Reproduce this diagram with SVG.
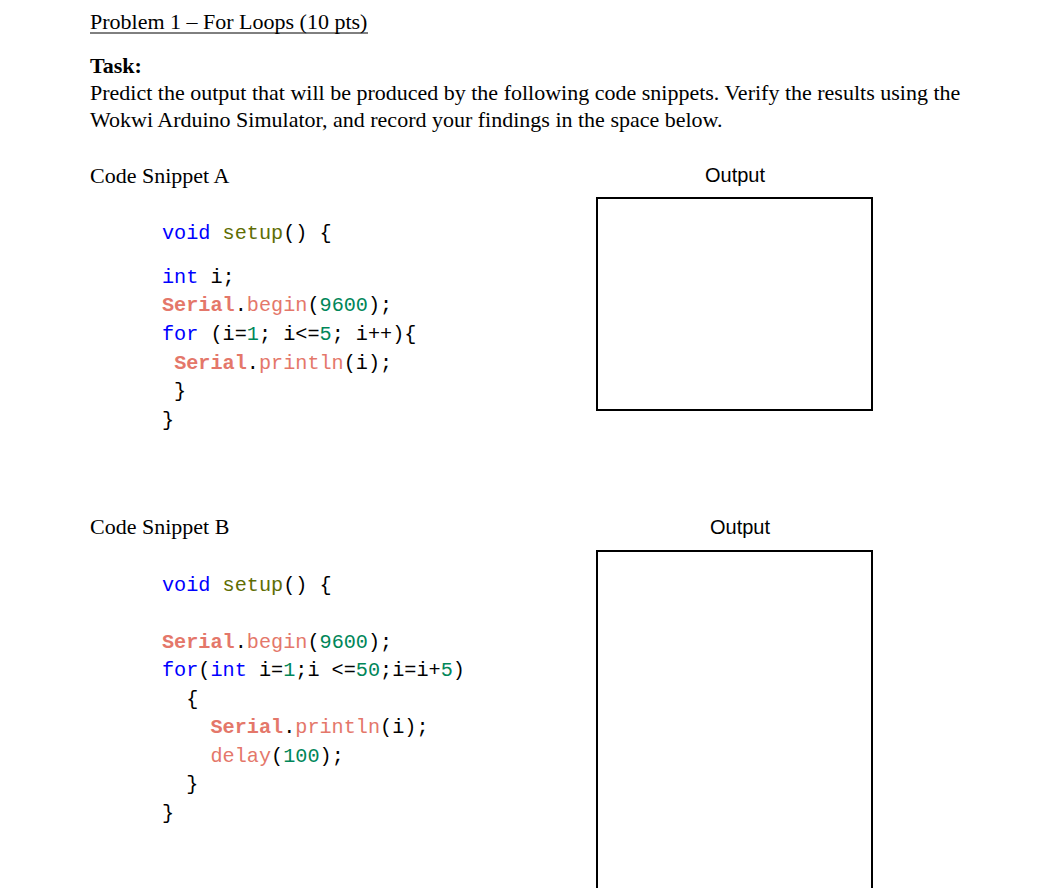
<svg xmlns="http://www.w3.org/2000/svg" width="1057" height="888" viewBox="0 0 1057 888">
<style>
.t{font-family:"Liberation Serif",serif;font-size:22px;fill:#000}
.o{font-family:"Liberation Sans",sans-serif;font-size:20px;fill:#000}
.c{font-family:"Liberation Mono",monospace;font-size:20.2px;fill:#000;white-space:pre}
.k{fill:#0000ff}.f{fill:#5e6d03}.s{fill:#e4776a;font-weight:bold}.m{fill:#e4776a}.n{fill:#008659}
.box{fill:none;stroke:#000;stroke-width:2}
</style>
<rect width="1057" height="888" fill="#fff"/>
<text class="t" x="90" y="29">Problem 1 – For Loops (10 pts)</text>
<line x1="90" y1="33" x2="368" y2="33" stroke="#000" stroke-width="1"/>
<text class="t" x="90" y="73" font-weight="bold">Task:</text>
<text class="t" x="90" y="100">Predict the output that will be produced by the following code snippets. Verify the results using the</text>
<text class="t" x="90" y="127">Wokwi Arduino Simulator, and record your findings in the space below.</text>
<text class="t" x="90" y="183">Code Snippet A</text>
<text class="o" x="705" y="182">Output</text>
<rect class="box" x="597" y="198" width="275" height="212"/>
<g id="snippetA" xml:space="preserve">
<text class="c" x="162" y="239"><tspan class="k">void</tspan> <tspan class="f">setup</tspan>() {</text>
<text class="c" x="162" y="283"><tspan class="k">int</tspan> i;</text>
<text class="c" x="162" y="311"><tspan class="s">Serial</tspan>.<tspan class="m">begin</tspan>(<tspan class="n">9600</tspan>);</text>
<text class="c" x="162" y="340"><tspan class="k">for</tspan> (i=<tspan class="n">1</tspan>; i&lt;=<tspan class="n">5</tspan>; i++){</text>
<text class="c" x="162" y="369"> <tspan class="s">Serial</tspan>.<tspan class="m">println</tspan>(i);</text>
<text class="c" x="162" y="397"> }</text>
<text class="c" x="162" y="426">}</text>
</g>
<text class="t" x="90" y="534">Code Snippet B</text>
<text class="o" x="710" y="534">Output</text>
<path class="box" d="M597,888 V551 H872 V888"/>
<g id="snippetB" xml:space="preserve">
<text class="c" x="162" y="591"><tspan class="k">void</tspan> <tspan class="f">setup</tspan>() {</text>
<text class="c" x="162" y="648"><tspan class="s">Serial</tspan>.<tspan class="m">begin</tspan>(<tspan class="n">9600</tspan>);</text>
<text class="c" x="162" y="676"><tspan class="k">for</tspan>(<tspan class="k">int</tspan> i=<tspan class="n">1</tspan>;i &lt;=<tspan class="n">50</tspan>;i=i+<tspan class="n">5</tspan>)</text>
<text class="c" x="162" y="705">  {</text>
<text class="c" x="162" y="733">    <tspan class="s">Serial</tspan>.<tspan class="m">println</tspan>(i);</text>
<text class="c" x="162" y="762">    <tspan class="m">delay</tspan>(<tspan class="n">100</tspan>);</text>
<text class="c" x="162" y="790">  }</text>
<text class="c" x="162" y="819">}</text>
</g>
</svg>
